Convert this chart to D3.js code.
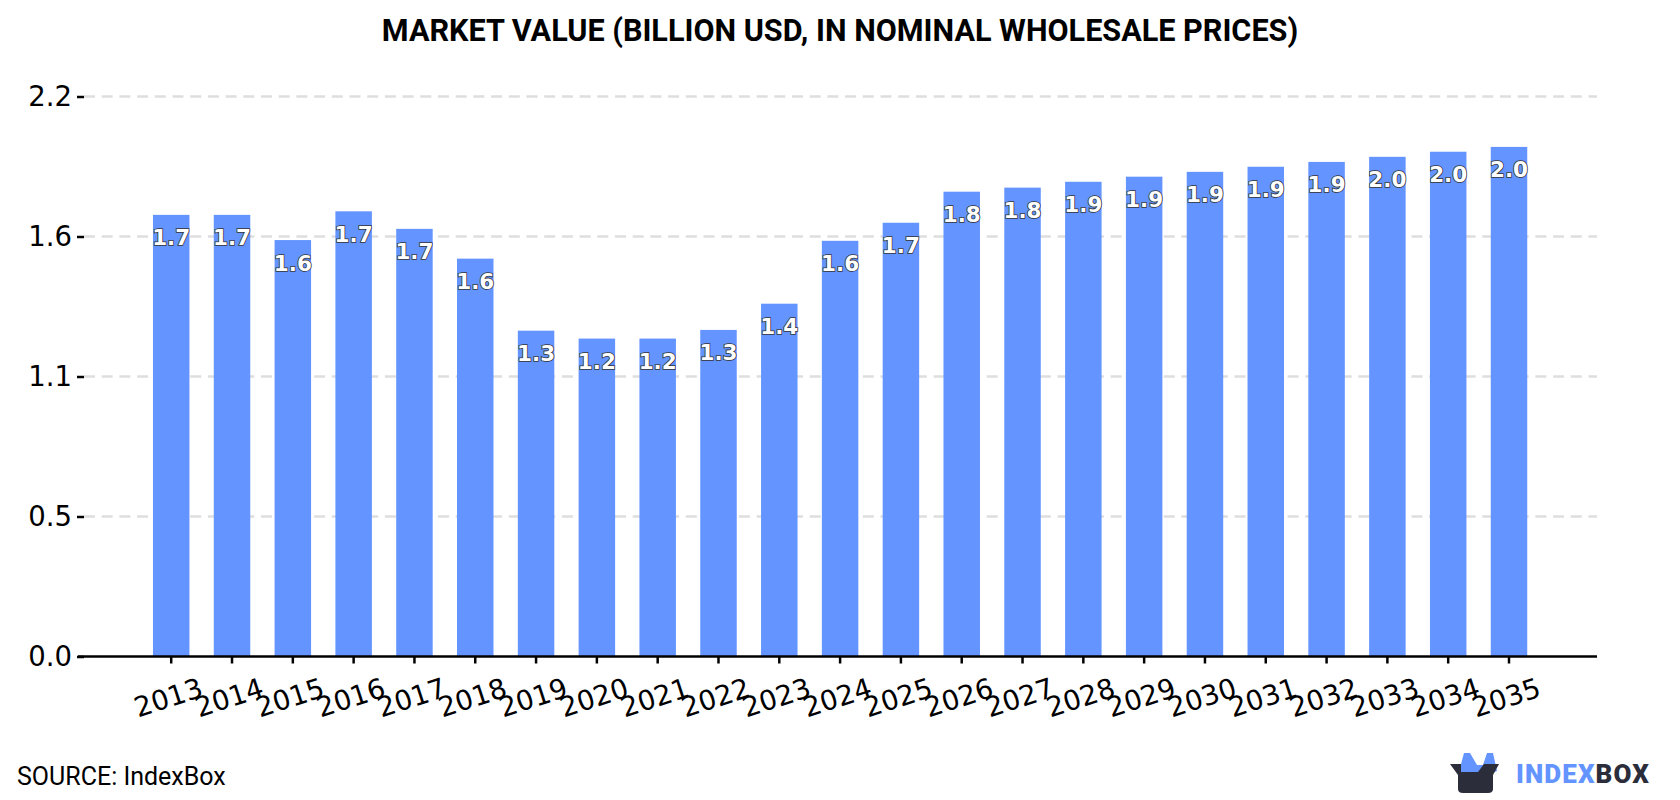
<!DOCTYPE html>
<html>
<head>
<meta charset="utf-8">
<script src="https://cdn.jsdelivr.net/npm/d3@7"></script>
<style>
  html, body { margin: 0; padding: 0; background: #fff; }
  svg { display: block; }
</style>
</head>
<body>
<svg id="chart" width="1680" height="800"></svg>
<script>
const years = ["2013","2014","2015","2016","2017","2018","2019","2020","2021","2022","2023","2024","2025","2026","2027","2028","2029","2030","2031","2032","2033","2034","2035"];
const marketValue = [1.735,1.735,1.636,1.749,1.68,1.563,1.28,1.249,1.249,1.283,1.386,1.633,1.704,1.826,1.842,1.865,1.885,1.904,1.924,1.943,1.963,1.983,2.002];
const valueTicks = [0, 0.55, 1.1, 1.65, 2.2];
const tickLabels = ["0.0", "0.5", "1.1", "1.6", "2.2"];
const titleText = "MARKET VALUE (BILLION USD, IN NOMINAL WHOLESALE PRICES)";
const sourceText = "SOURCE: IndexBox";

const svg = d3.select("#chart");
const plot = { left: 84, right: 1597, top: 96.5, bottom: 656.5 };
const sans = "'DejaVu Sans', sans-serif";

const x = d3.scaleBand().domain(years).range([78, 1597]).paddingInner(0.4).paddingOuter(1.19).align(0.518);
const y = d3.scaleLinear().domain([0, 2.2]).range([plot.bottom, plot.top]);

// horizontal dashed grid
svg.append("g").selectAll("line").data(valueTicks.slice(1)).join("line")
  .attr("x1", plot.left).attr("x2", plot.right)
  .attr("y1", d => y(d)).attr("y2", d => y(d))
  .attr("stroke", "#dedede").attr("stroke-width", 2.5)
  .attr("stroke-dasharray", "11 6.7");

// bars
svg.append("g").selectAll("rect").data(years).join("rect")
  .attr("x", d => x(d)).attr("width", x.bandwidth())
  .attr("y", (d, i) => y(marketValue[i]))
  .attr("height", (d, i) => y(0) - y(marketValue[i]))
  .attr("fill", "#6394ff");

// value axis
const yAxis = d3.axisLeft(y).tickValues(valueTicks)
  .tickFormat((d, i) => tickLabels[i]).tickSize(7).tickPadding(5);
const yG = svg.append("g").attr("transform", `translate(${plot.left},0)`).call(yAxis);
yG.select(".domain").remove();
yG.selectAll(".tick line").attr("stroke", "#000").attr("stroke-width", 2.5);
yG.selectAll(".tick text").attr("font-family", sans).attr("font-size", 27.5).attr("fill", "#000");

// year axis
const xAxis = d3.axisBottom(x).tickSize(7).tickPadding(0);
const xG = svg.append("g").attr("transform", `translate(0,${plot.bottom})`).call(xAxis);
xG.select(".domain").remove();
xG.selectAll(".tick line").attr("stroke", "#000").attr("stroke-width", 2.5);
xG.selectAll(".tick text")
  .attr("font-family", sans).attr("font-size", 27.5).attr("fill", "#000")
  .attr("text-anchor", "middle").attr("dy", null)
  .attr("transform", "translate(-2,43.5) rotate(-18)");
svg.append("line").attr("x1", 78).attr("x2", 1597)
  .attr("y1", plot.bottom).attr("y2", plot.bottom)
  .attr("stroke", "#000").attr("stroke-width", 2.5);

// value labels inside the bars
svg.append("g").selectAll("text").data(years).join("text")
  .attr("x", d => x(d) + x.bandwidth() / 2)
  .attr("y", (d, i) => y(marketValue[i]) + 24.5)
  .attr("text-anchor", "middle").attr("dominant-baseline", "middle")
  .attr("font-family", sans).attr("font-weight", 700).attr("font-size", 21.5)
  .attr("fill", "#fff").attr("stroke", "#333").attr("stroke-width", 1.6)
  .attr("paint-order", "stroke")
  .text((d, i) => d3.format(".1f")(marketValue[i]));

// title and source
svg.append("text").attr("x", 840).attr("y", 41).attr("text-anchor", "middle")
  .attr("font-family", "Roboto, sans-serif").attr("font-weight", 700).attr("font-size", 30.6)
  .attr("fill", "#000").text(titleText);
svg.append("text").attr("x", 17).attr("y", 785)
  .attr("font-family", "Roboto, sans-serif").attr("font-size", 25)
  .attr("fill", "#000").text(sourceText);

// brand mark and wordmark
const logo = svg.append("g").attr("transform", "translate(1450,753)");
logo.append("path").attr("fill", "#6394ff")
  .attr("d", "M11 11 L14 0 L20 0 L27 12 L33 12 L37 0 L43 0 L47 18 L33 24 L11 20 Z");
logo.append("path").attr("fill", "#2b2d3b")
  .attr("d", "M0 11 L11 11 L11 19 L28 19 L34 11 L49 11 L43 22 L43 36 Q43 40 38 40 L13 40 Q8 40 8 36 L8 22 Z");
const wordmark = svg.append("text").attr("x", 1516).attr("y", 783)
  .attr("font-family", "Roboto, sans-serif").attr("font-weight", 900).attr("font-size", 26)
  .attr("letter-spacing", 1.1);
wordmark.append("tspan").attr("fill", "#6394ff").text("INDEX");
wordmark.append("tspan").attr("fill", "#2b2d3b").text("BOX");
</script>
</body>
</html>
